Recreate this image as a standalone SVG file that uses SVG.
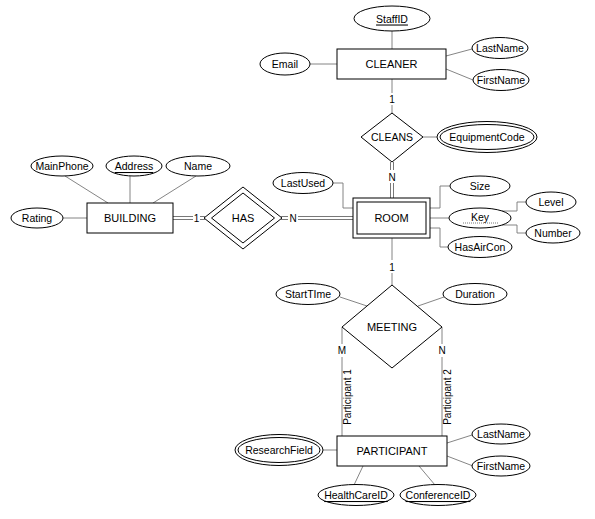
<svg xmlns="http://www.w3.org/2000/svg" width="595" height="519" viewBox="0 0 595 519">
<style>
.bg{fill:#ffffff}
.shp{fill:#ffffff;stroke:#000000;stroke-width:1}
.ln{fill:none;stroke:#777777;stroke-width:0.9}
.dl{fill:none;stroke:#555555;stroke-width:0.8}
.et{font-family:"Liberation Sans",Arial,sans-serif;font-size:11px;fill:#000;text-anchor:middle;dominant-baseline:central}
.at{font-family:"Liberation Sans",Arial,sans-serif;font-size:10.5px;fill:#000;text-anchor:middle;dominant-baseline:central}
.lb{font-family:"Liberation Sans",Arial,sans-serif;font-size:10px;fill:#000;text-anchor:middle;dominant-baseline:central}
.u{text-decoration:underline}
</style>
<rect class="bg" x="0" y="0" width="595" height="519"/>
<g id="connectors">
<line class="ln" x1="392" y1="31" x2="392" y2="49"/>
<line class="ln" x1="310" y1="64" x2="337" y2="64"/>
<line class="ln" x1="446" y1="56" x2="472" y2="49"/>
<line class="ln" x1="446" y1="69" x2="473" y2="80"/>
<line class="ln" x1="392" y1="79" x2="392" y2="93"/>
<line class="ln" x1="392" y1="105" x2="392" y2="113"/>
<line class="ln" x1="423" y1="137" x2="437" y2="137"/>
<line class="dl" x1="390.5" y1="162" x2="390.5" y2="170"/>
<line class="dl" x1="393.5" y1="162" x2="393.5" y2="170"/>
<line class="dl" x1="390.5" y1="183" x2="390.5" y2="198"/>
<line class="dl" x1="393.5" y1="183" x2="393.5" y2="198"/>
<polyline class="ln" points="333,183 343,183 343,208 353,208"/>
<polyline class="ln" points="430,208 440,208 440,186 450,186"/>
<line class="ln" x1="430" y1="218" x2="449" y2="218"/>
<polyline class="ln" points="430,228 440,228 440,247 448,247"/>
<polyline class="ln" points="502,211 517,211 517,202 526,202"/>
<polyline class="ln" points="502,225 517,225 517,233 526,233"/>
<line class="ln" x1="63" y1="218" x2="87" y2="218"/>
<line class="ln" x1="65" y1="176" x2="108" y2="203"/>
<line class="ln" x1="130" y1="176" x2="130" y2="203"/>
<line class="ln" x1="196" y1="176" x2="153" y2="203"/>
<line class="dl" x1="173" y1="216.5" x2="193" y2="216.5"/>
<line class="dl" x1="173" y1="219.5" x2="193" y2="219.5"/>
<line class="dl" x1="200" y1="216.5" x2="205" y2="216.5"/>
<line class="dl" x1="200" y1="219.5" x2="205" y2="219.5"/>
<line class="dl" x1="281" y1="216.5" x2="288" y2="216.5"/>
<line class="dl" x1="281" y1="219.5" x2="288" y2="219.5"/>
<line class="dl" x1="298" y1="216.5" x2="353" y2="216.5"/>
<line class="dl" x1="298" y1="219.5" x2="353" y2="219.5"/>
<line class="ln" x1="392" y1="238" x2="392" y2="260"/>
<line class="ln" x1="392" y1="273" x2="392" y2="285"/>
<line class="ln" x1="340" y1="297" x2="367" y2="306"/>
<line class="ln" x1="444" y1="297" x2="418" y2="306"/>
<line class="ln" x1="342" y1="327" x2="342" y2="344"/>
<line class="ln" x1="342" y1="357" x2="342" y2="436"/>
<line class="ln" x1="442" y1="327" x2="442" y2="344"/>
<line class="ln" x1="442" y1="357" x2="442" y2="436"/>
<line class="ln" x1="323" y1="450" x2="337" y2="450"/>
<line class="ln" x1="447" y1="443" x2="472" y2="435"/>
<line class="ln" x1="447" y1="456" x2="473" y2="466"/>
<line class="ln" x1="363" y1="466" x2="354" y2="485"/>
<line class="ln" x1="419" y1="466" x2="435" y2="485"/>
<text class="lb" x="392" y="99">1</text>
<text class="lb" x="392" y="177">N</text>
<text class="lb" x="196.5" y="218">1</text>
<text class="lb" x="293" y="218">N</text>
<text class="lb" x="392" y="267">1</text>
<text class="lb" x="342" y="350">M</text>
<text class="lb" x="442" y="350">N</text>
<text class="lb" x="351" y="397" transform="rotate(-90 351 397)" style="dominant-baseline:auto">Participant 1</text>
<text class="lb" x="451" y="397" transform="rotate(-90 451 397)" style="dominant-baseline:auto">Participant 2</text>
</g>
<g id="StaffID"><ellipse class="shp" cx="392" cy="18.5" rx="38" ry="12.5"/><text class="at u" x="392" y="18.5">StaffID</text></g>
<g id="CLEANER"><rect class="shp" x="337" y="49" width="109" height="30"/><text class="et" x="391.5" y="64">CLEANER</text></g>
<g id="Email"><ellipse class="shp" cx="285" cy="64" rx="25" ry="11"/><text class="at" x="285" y="64">Email</text></g>
<g id="CleanerLastName"><ellipse class="shp" cx="500" cy="48" rx="28" ry="10.5"/><text class="at" x="500" y="48">LastName</text></g>
<g id="CleanerFirstName"><ellipse class="shp" cx="501" cy="80" rx="28" ry="10.5"/><text class="at" x="501" y="80">FirstName</text></g>
<g id="CLEANS"><polygon class="shp" points="392,113 423,137 392,162 361,137"/><text class="at" x="392" y="137">CLEANS</text></g>
<g id="EquipmentCode"><ellipse class="shp" cx="487" cy="137" rx="50" ry="15.5"/><ellipse class="shp" cx="487" cy="137" rx="47" ry="12.5"/><text class="at" x="487" y="137">EquipmentCode</text></g>
<g id="ROOM"><rect class="shp" x="353" y="198" width="77" height="40"/><rect class="shp" x="357" y="202" width="69" height="32"/><text class="et" x="391.5" y="218">ROOM</text></g>
<g id="LastUsed"><ellipse class="shp" cx="303" cy="183" rx="30" ry="10.5"/><text class="at" x="303" y="183">LastUsed</text></g>
<g id="Size"><ellipse class="shp" cx="480" cy="186" rx="30" ry="10"/><text class="at" x="480" y="186">Size</text></g>
<g id="Key"><ellipse class="shp" cx="480" cy="218" rx="31" ry="10"/><text class="at" x="480" y="217">Key</text><line x1="463" y1="223" x2="498" y2="223" stroke="#555" stroke-width="0.8" stroke-dasharray="1,1"/></g>
<g id="HasAirCon"><ellipse class="shp" cx="480" cy="247" rx="32" ry="10.5"/><text class="at" x="480" y="247">HasAirCon</text></g>
<g id="Level"><ellipse class="shp" cx="551" cy="202" rx="25" ry="10"/><text class="at" x="551" y="202">Level</text></g>
<g id="Number"><ellipse class="shp" cx="553" cy="233" rx="27" ry="10"/><text class="at" x="553" y="233">Number</text></g>
<g id="BUILDING"><rect class="shp" x="87" y="203" width="86" height="30"/><text class="et" x="130" y="218">BUILDING</text></g>
<g id="Rating"><ellipse class="shp" cx="37" cy="218" rx="26" ry="10"/><text class="at" x="37" y="218">Rating</text></g>
<g id="MainPhone"><ellipse class="shp" cx="62" cy="166" rx="31" ry="10"/><text class="at" x="62" y="166">MainPhone</text></g>
<g id="Address"><ellipse class="shp" cx="134" cy="166" rx="28" ry="10"/><text class="at u" x="134" y="166">Address</text></g>
<g id="Name"><ellipse class="shp" cx="198" cy="166" rx="32" ry="10"/><text class="at" x="198" y="166">Name</text></g>
<g id="HAS"><polygon class="shp" points="243,187 282,218 243,249 204,218"/><polygon class="shp" points="243,193 274.5,218 243,243 211.5,218"/><text class="et" x="243" y="218">HAS</text></g>
<g id="MEETING"><polygon class="shp" points="392,285 442,327 392,368 342,327"/><text class="et" x="392" y="327">MEETING</text></g>
<g id="StartTIme"><ellipse class="shp" cx="308" cy="294" rx="32" ry="10.5"/><text class="at" x="308" y="294">StartTIme</text></g>
<g id="Duration"><ellipse class="shp" cx="475" cy="294" rx="32" ry="10.5"/><text class="at" x="475" y="294">Duration</text></g>
<g id="PARTICIPANT"><rect class="shp" x="337" y="436" width="110" height="30"/><text class="et" x="392" y="451">PARTICIPANT</text></g>
<g id="ResearchField"><ellipse class="shp" cx="279" cy="450" rx="44" ry="15.5"/><ellipse class="shp" cx="279" cy="450" rx="41" ry="12.5"/><text class="at" x="279" y="450">ResearchField</text></g>
<g id="ParticipantLastName"><ellipse class="shp" cx="501" cy="434" rx="29" ry="10"/><text class="at" x="501" y="434">LastName</text></g>
<g id="ParticipantFirstName"><ellipse class="shp" cx="501" cy="466" rx="29" ry="10"/><text class="at" x="501" y="466">FirstName</text></g>
<g id="HealthCareID"><ellipse class="shp" cx="356" cy="495" rx="38" ry="10.5"/><text class="at u" x="356" y="495">HealthCareID</text></g>
<g id="ConferenceID"><ellipse class="shp" cx="438" cy="495" rx="38" ry="10.5"/><text class="at u" x="438" y="495">ConferenceID</text></g>
</svg>
